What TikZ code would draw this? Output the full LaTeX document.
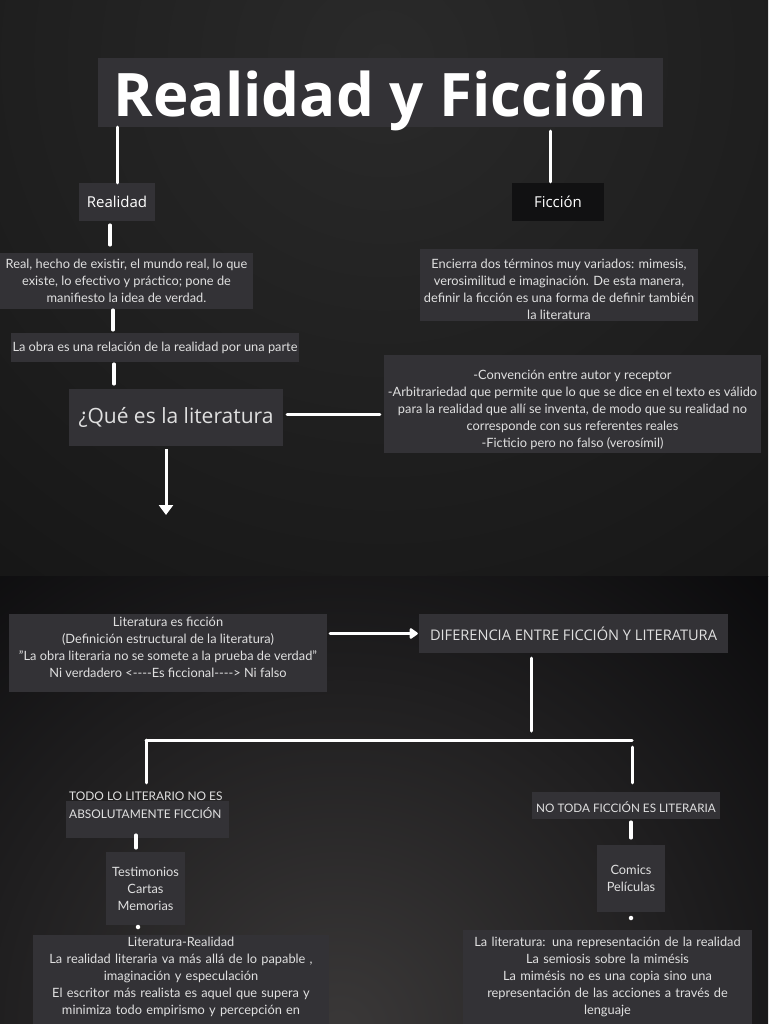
\documentclass[tikz,border=0pt]{standalone}
\usepackage{fontspec}
\setmainfont{Lato}
\newfontfamily\osans{Open Sans}
\usetikzlibrary{arrows.meta}
\definecolor{boxc}{HTML}{333236}
\definecolor{ficc}{HTML}{111112}
\definecolor{txt}{HTML}{E0E0E0}
\definecolor{bgtopin}{HTML}{2A2A2A}
\definecolor{bgtopout}{HTML}{121212}
\definecolor{bglowin}{HTML}{3A3838}
\definecolor{bglowout}{HTML}{050507}
\newcommand\hy{-\kern0pt}
\newcommand\lowstrut[1]{\rule{0pt}{#1}}
\tikzset{
  box/.style={fill=boxc, inner sep=0pt, text=txt, align=center,
    font=\fontsize{12.8}{17}\selectfont},
  head/.style={font=\osans\fontsize{15}{18}\selectfont, text=white},
  conn/.style={draw=white, line width=3pt, line cap=round},
  tick/.style={draw=white, line width=3.5pt, line cap=round},
  arr/.style={draw=white, line width=3pt, -{Triangle[width=14pt,length=10pt]}},
  arrr/.style={draw=white, line width=3pt, line cap=round, -{Triangle[width=12pt,length=9pt,round]}},
  dotn/.style={circle, fill=white, inner sep=0pt, minimum size=4.5pt},
}
\begin{document}
\begin{tikzpicture}[x=1pt,y=-1pt]
\useasboundingbox (0,0) rectangle (768,1024);
% background
\fill[bgtopout] (0,0) rectangle (768,576);
\begin{scope}
  \clip (0,0) rectangle (768,576);
  \shade[inner color=bgtopin, outer color=bgtopout] (384,60) circle (800pt);
\end{scope}
\fill[bglowout] (0,576) rectangle (768,1024);
\begin{scope}
  \clip (0,576) rectangle (768,1024);
  \shade[inner color=bglowin, outer color=bglowout] (340,1030) circle (700pt);
\end{scope}

% upper part
\node[box, minimum width=565pt, text height=59pt, text depth=10pt, text=white,
  font=\osans\bfseries\fontsize{60}{62}\selectfont] (title) at (380.5,92.5) {Realidad y Ficción};
\node[box, head, minimum width=76pt, minimum height=38pt] (real) at (117,202) {Realidad};
\node[box, head, fill=ficc, minimum width=92pt, minimum height=38pt] (fic) at (558,202) {Ficción};
\node[box, minimum width=253pt, minimum height=56pt] (realdef) at (126.5,281)
  {Real, hecho de existir, el mundo real, lo que\\ existe, lo efectivo y práctico; pone de\\ manifiesto la idea de verdad.};
\node[box, minimum width=288pt, minimum height=29pt] (obra) at (155,347.5)
  {La obra es una relación de la realidad por una parte};
\node[box, minimum width=214pt, minimum height=57pt,
  font=\osans\fontsize{21}{24}\selectfont] (que) at (176,417.5) {¿Qué es la literatura};
\node[box, minimum width=278pt, minimum height=72pt] (ficdef) at (559,285)
  {\lowstrut{18pt}Encierra dos términos muy variados: mimesis,\\ verosimilitud e imaginación. De esta manera,\\ definir la ficción es una forma de definir también\\ la literatura};
\node[box, minimum width=377pt, minimum height=98pt] (conv) at (572.5,404)
  {\lowstrut{22pt}-Convención entre autor y receptor\\ -Arbitrariedad que permite que lo que se dice en el texto es válido\\ para la realidad que allí se inventa, de modo que su realidad no\\ corresponde con sus referentes reales\\ -Ficticio pero no falso (verosímil)};

\draw[conn] (title.south -| real) -- (real.north);
\coordinate (fx) at ([xshift=-8pt]fic.north);
\draw[conn, shorten <=4pt, shorten >=1pt] (fx |- title.south) -- (fx);
\coordinate (rx) at ([xshift=-7pt]real.south);
\draw[tick, shorten <=4pt, shorten >=8pt] (rx) -- (rx |- realdef.north);
\coordinate (dx) at ([xshift=-13.5pt]realdef.south);
\draw[tick, shorten <=1pt, shorten >=3pt] (dx) -- (dx |- obra.north);
\coordinate (ox) at ([xshift=-41pt]obra.south);
\draw[tick, shorten <=2pt, shorten >=5pt] (ox) -- (ox |- que.north);
\coordinate (qy) at ([yshift=3.5pt]que.east);
\draw[conn, shorten <=4pt, shorten >=4pt] (qy) -- (qy -| conv.west);
\coordinate (qa) at (166,515);
\draw[arr, shorten <=3pt] (que.south -| qa) -- (qa);

% lower part
\node[box, minimum width=318pt, minimum height=78pt] (litfic) at (168,653)
  {Literatura es ficción\\ (Definición estructural de la literatura)\\ "La obra literaria no se somete a la prueba de verdad"\\ Ni verdadero <\hy\hy\hy\hy Es ficcional\hy\hy\hy\hy> Ni falso\\[-5pt]~};
\node[box, minimum width=309pt, minimum height=39pt,
  font=\osans\fontsize{14.6}{17}\selectfont] (dif) at (573.5,633.5) {DIFERENCIA ENTRE FICCIÓN Y LITERATURA};
\draw[arrr, shorten <=3pt, shorten >=1pt] (litfic.east |- dif) -- (dif.west);

\coordinate (jn) at (531,740);
\coordinate (bl) at (146,740);
\coordinate (br) at (632,740);
\draw[conn, shorten <=5pt, shorten >=9pt] (dif.south -| jn) -- (jn);
\draw[conn] (bl) -- (br);

\node[box, minimum width=163pt, minimum height=37pt] (todo) at (147.5,819.5) {};
\node[text=txt, inner sep=0pt, align=left, anchor=north west,
  font=\fontsize{11.9}{18}\selectfont] (todot) at (69,792) {TODO LO LITERARIO NO ES\\ ABSOLUTAMENTE FICCIÓN};
\draw[conn, shorten >=18pt] (bl) -- (bl |- todo.north);

\node[box, minimum width=188pt, text height=20pt, text depth=7pt,
  font=\fontsize{11.7}{13}\selectfont] (notoda) at (626,805.5) {NO TODA FICCIÓN ES LITERARIA};
\draw[conn, shorten <=7pt, shorten >=9pt] (br) -- (br |- notoda.north);

\node[box, minimum width=79pt, minimum height=73pt] (test) at (145.5,888.5) {Testimonios\\ Cartas\\ Memorias};
\draw[tick] ([xshift=-11.5pt,yshift=3pt]todo.south) -- ([xshift=-9.5pt,yshift=4pt]test.north);
\node[dotn] (d1) at (138,927) {};

\node[box, minimum width=68pt, minimum height=67pt] (comics) at (631,878.5) {Comics\\ Películas};
\draw[tick, shorten <=3pt, shorten >=7pt] (notoda.south -| comics) -- (comics.north);
\node[dotn] (d2) at (631,918) {};

\node[box, anchor=north, text width=296pt, inner ysep=1.5pt] (litreal) at (181,935)
  {Literatura-Realidad\\ La realidad literaria va más allá de lo papable ,\\ imaginación y especulación\\ El escritor más realista es aquel que supera y\\ minimiza todo empirismo y percepción en\\ ~\\ ~};
\node[box, anchor=north, text width=289pt, inner ysep=7pt] (litrep) at (607.5,930)
  {La literatura: una representación de la realidad\\ La semiosis sobre la mimésis\\ La mimésis no es una copia sino una\\ representación de las acciones a través de\\ lenguaje\\ ~\\ ~};
\end{tikzpicture}
\end{document}
